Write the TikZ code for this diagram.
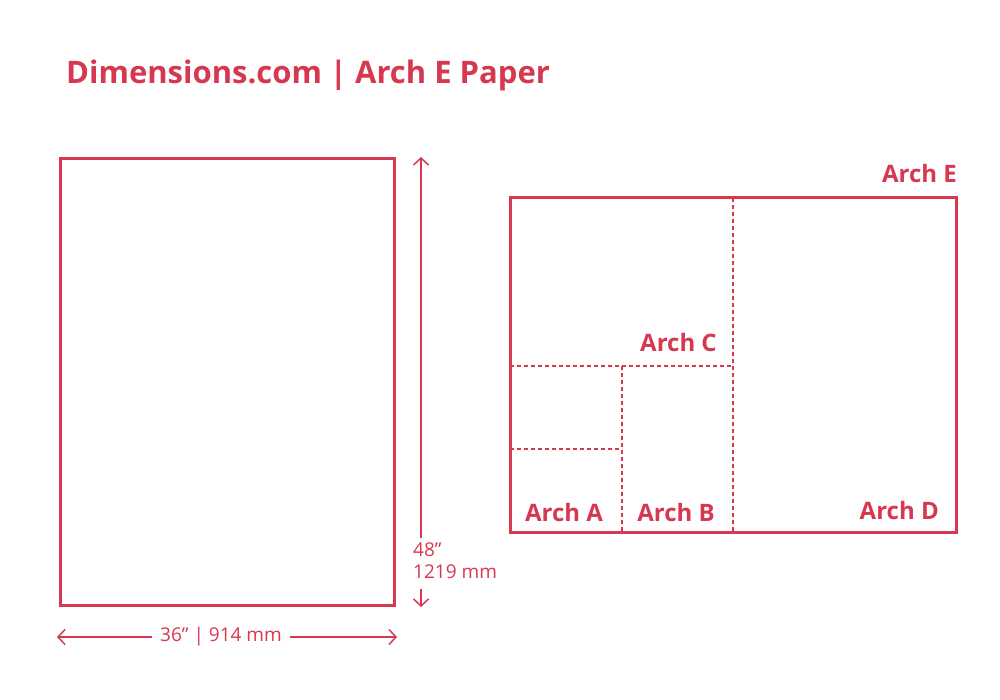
\documentclass[tikz,border=0pt]{standalone}
\usepackage{fontspec}
\setmainfont{Open Sans}
\usetikzlibrary{arrows.meta}
\definecolor{dimred}{RGB}{214,56,80}
\begin{document}
\begin{tikzpicture}[x=1pt,y=-1pt,
  paper/.style={draw=dimred,line width=3pt},
  fold/.style={draw=dimred,line width=2.5pt,dash pattern=on 4pt off 3pt},
  dimline/.style={draw=dimred,line width=1.5pt,-{Straight Barb[length=7pt,width=15pt]}},
  lbl/.style={text=dimred,font=\bfseries\fontsize{24}{26}\selectfont,inner sep=0pt},
  dimtxt/.style={text=dimred,font=\fontsize{19}{21}\selectfont,inner sep=0pt}]
\useasboundingbox (0,0) rectangle (1000,700);
% title
\node[text=dimred,font=\bfseries\fontsize{31}{34}\selectfont,anchor=west,inner sep=0pt] (title) at (66,75) {Dimensions.com | Arch E Paper};
% left sheet
\draw[paper] (60,159) rectangle (394,605);
% vertical dimension
\coordinate (vtop) at (421,157);
\coordinate (vbot) at (421,607);
\node[dimtxt,anchor=west] (h1) at (413,550) {48”};
\node[dimtxt,anchor=west] (h2) at (413,572) {1219 mm};
\draw[dimline] (421,538) -- (vtop);
\draw[dimline] (421,589) -- (vbot);
% horizontal dimension
\coordinate (hl) at (57,637);
\coordinate (hr) at (397,637);
\node[dimtxt] (w) at (221,637) {36” | 914 mm};
\draw[dimline] (w.west) ++(-8,0) -- (hl);
\draw[dimline] (w.east) ++(8,0) -- (hr);
% right sheet
\draw[paper] (510,198) rectangle (956,532);
\draw[fold] (733,198) -- (733,532);
\draw[fold] (510,366) -- (733,366);
\draw[fold] (622,366) -- (622,532);
\draw[fold] (510,449) -- (622,449);
% labels
\node[lbl,anchor=east] (e) at (957,174) {Arch E};
\node[lbl,anchor=east] (c) at (717,342) {Arch C};
\node[lbl] (a) at (564,512) {Arch A};
\node[lbl] (b) at (676,512) {Arch B};
\node[lbl,anchor=east] (d) at (939,510) {Arch D};
\end{tikzpicture}
\end{document}
